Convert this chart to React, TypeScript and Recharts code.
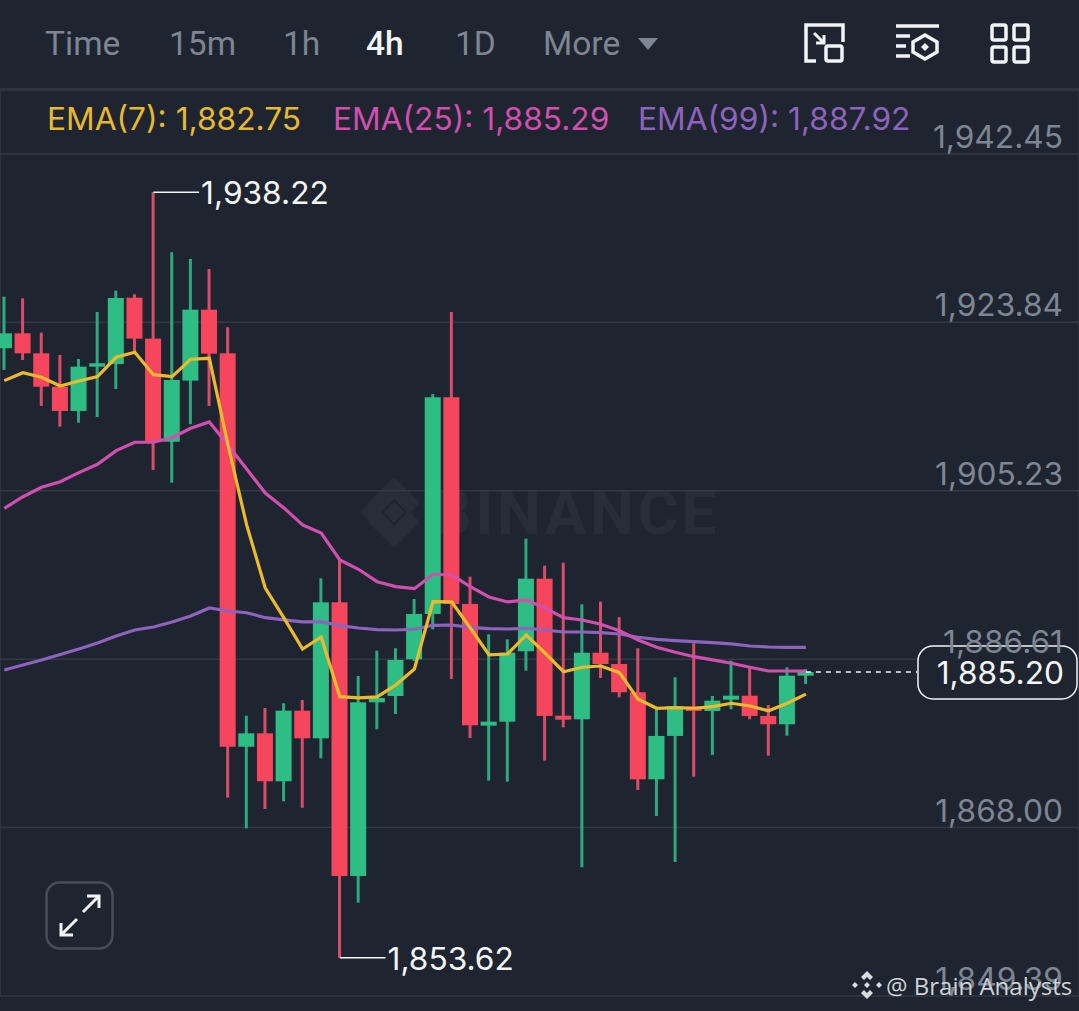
import {
  ComposedChart,
  Bar,
  Line,
  XAxis,
  YAxis,
  CartesianGrid,
  ReferenceLine
} from 'recharts'

const opens = [1920.98, 1922.63, 1920.42, 1916.73, 1914.05, 1918.94, 1919.24, 1926.57, 1922.04, 1910.65, 1917.40, 1925.24, 1920.42, 1876.94, 1878.42, 1873.12, 1880.92, 1877.87, 1892.90, 1862.65, 1881.85, 1882.55, 1886.60, 1891.61, 1915.56, 1892.72, 1879.27, 1879.71, 1887.49, 1895.51, 1880.37, 1879.97, 1887.33, 1886.08, 1882.96, 1873.34, 1878.13, 1881.37, 1880.89, 1882.14, 1882.58, 1880.34, 1879.42, 1884.79]
const closes = [1922.63, 1920.42, 1916.73, 1914.05, 1918.94, 1919.32, 1926.53, 1922.04, 1910.65, 1917.47, 1925.24, 1920.38, 1876.94, 1878.42, 1873.12, 1880.92, 1877.87, 1892.90, 1862.65, 1881.85, 1882.33, 1886.53, 1891.61, 1915.56, 1892.72, 1879.31, 1879.71, 1887.33, 1895.51, 1880.34, 1879.93, 1887.33, 1886.08, 1882.96, 1873.34, 1878.13, 1881.44, 1880.89, 1882.03, 1882.58, 1880.34, 1879.42, 1884.79, 1885.20]
const highs = [1926.68, 1926.50, 1922.70, 1920.24, 1919.79, 1924.99, 1927.34, 1926.94, 1938.22, 1931.59, 1930.85, 1929.74, 1923.30, 1880.37, 1881.22, 1881.74, 1882.11, 1895.56, 1897.58, 1884.76, 1887.55, 1887.82, 1893.27, 1915.93, 1924.99, 1895.73, 1889.37, 1888.81, 1899.93, 1896.95, 1897.28, 1892.68, 1892.97, 1891.25, 1887.82, 1881.19, 1884.61, 1888.37, 1882.55, 1886.45, 1885.72, 1881.55, 1885.72, 1885.50]
const lows = [1918.58, 1919.68, 1914.60, 1912.31, 1912.75, 1913.38, 1916.48, 1920.57, 1907.53, 1906.12, 1912.58, 1914.60, 1871.31, 1867.92, 1870.06, 1870.91, 1870.20, 1875.66, 1853.62, 1859.70, 1878.87, 1880.56, 1886.40, 1889.92, 1884.43, 1877.91, 1873.19, 1873.08, 1885.34, 1875.40, 1879.09, 1863.62, 1884.54, 1882.40, 1872.16, 1869.29, 1864.20, 1873.63, 1876.03, 1881.08, 1879.97, 1875.95, 1878.16, 1883.87]

const ema7 = [1917.40, 1918.28, 1917.77, 1916.81, 1917.36, 1917.84, 1919.98, 1920.53, 1918.06, 1917.84, 1919.76, 1919.87, 1910.29, 1901.45, 1894.48, 1891.17, 1887.74, 1889.07, 1882.47, 1882.33, 1882.44, 1883.76, 1885.53, 1892.97, 1892.94, 1890.06, 1887.08, 1887.19, 1889.29, 1887.30, 1885.23, 1885.72, 1885.86, 1885.12, 1882.18, 1881.19, 1881.26, 1881.19, 1881.37, 1881.74, 1881.44, 1880.92, 1881.74, 1882.75]
const ema25 = [1903.29, 1904.57, 1905.61, 1906.23, 1907.23, 1908.16, 1909.66, 1910.59, 1910.59, 1911.09, 1912.13, 1912.83, 1910.29, 1907.64, 1904.98, 1903.33, 1901.45, 1900.56, 1897.58, 1896.55, 1895.18, 1894.63, 1894.41, 1896.00, 1895.92, 1894.63, 1893.49, 1892.94, 1893.16, 1892.27, 1891.20, 1890.95, 1890.47, 1889.77, 1888.74, 1887.93, 1887.38, 1886.89, 1886.53, 1886.16, 1885.72, 1885.31, 1885.31, 1885.29]
const ema99 = [1885.42, 1885.97, 1886.53, 1887.13, 1887.74, 1888.41, 1889.18, 1889.84, 1890.17, 1890.73, 1891.39, 1892.27, 1891.94, 1891.75, 1891.20, 1890.95, 1890.73, 1890.76, 1890.32, 1890.06, 1889.88, 1889.84, 1889.92, 1890.36, 1890.39, 1890.14, 1889.99, 1889.95, 1890.03, 1889.84, 1889.62, 1889.62, 1889.54, 1889.40, 1889.04, 1888.81, 1888.66, 1888.55, 1888.44, 1888.30, 1888.07, 1887.96, 1887.93, 1887.92]

const priceTicks = [1849.39, 1868.00, 1886.61, 1905.23, 1923.84, 1942.45]
const timeTicks = [13, 32]
const timeframes = ['Time', '15m', '1h', '4h', '1D', 'More']
const timeframeLeft = [45, 169, 283, 366, 455, 543]
const lastPrice = 1885.20
const highPrice = 1938.22
const lowPrice = 1853.62

const chartData = opens.map((open, i) => ({
  i,
  open,
  close: closes[i],
  high: highs[i],
  low: lows[i],
  ema7: ema7[i],
  ema25: ema25[i],
  ema99: ema99[i]
}))

const BG = '#1e2530'
const GREEN = '#2ebd85'
const RED = '#f6465d'
const FONT = 'Inter, sans-serif'

const fmt = (v: number) => v.toLocaleString('en-US', { minimumFractionDigits: 2, maximumFractionDigits: 2 })

function Candle(props: any) {
  const { x, y, width, height, payload } = props
  const up = payload.close >= payload.open
  const color = up ? GREEN : RED
  const k = Math.abs(height) / (payload.high - payload.low)
  const top = Math.min(y, y + height)
  const bodyTop = top + (payload.high - Math.max(payload.open, payload.close)) * k
  const bodyH = Math.abs(payload.close - payload.open) * k
  return (
    <g>
      <rect x={x + width / 2 - 1.5} y={top} width={3} height={Math.abs(height)} fill={up ? '#2fa87f' : '#d94d68'} />
      <rect x={x} y={bodyTop} width={width} height={Math.max(bodyH, 3)} fill={color} />
    </g>
  )
}

function PriceTick({ y, payload }: any) {
  return (
    <text x={1063} y={y - 6} textAnchor="end" fontFamily={FONT} fontSize={31.7} fill="#7d8692">
      {fmt(payload.value)}
    </text>
  )
}

function LastPriceTag({ viewBox }: any) {
  const left = viewBox.x + viewBox.width + 1
  return (
    <g>
      <rect x={left} y={viewBox.y - 26} width={159} height={53} rx={15} fill={BG} stroke="#f2f3f5" strokeWidth={1.5} />
      <text x={left + 146} y={viewBox.y + 12} textAnchor="end" fontFamily={FONT} fontSize={31.7} fill="#f5f6f7">
        {fmt(lastPrice)}
      </text>
    </g>
  )
}

function ExtremeLabel({ viewBox, value }: any) {
  return (
    <text x={viewBox.x + viewBox.width + 2} y={viewBox.y + 12} fontFamily={FONT} fontSize={31.7} fill="#f5f6f7">
      {value}
    </text>
  )
}

function HeaderIcons() {
  return (
    <svg width={1079} height={90} style={{ position: 'absolute', left: 0, top: 0 }} fill="none" stroke="#f2f3f5" strokeWidth={3.5}>
      <path d="M806 46 V25 H843 V42 M806 46 V61 H816" />
      <rect x={826} y={46} width={16} height={15} rx={2} />
      <path d="M814 33 L824 43 M824 35 V43 H816" strokeWidth={3} />
      <path d="M896 26 H939 M896 36 H910 M896 46 H906 M896 56 H910" />
      <path d="M925 35 L937 42 V52 L925 59 L913 52 V42 Z" />
      <path d="M925 43 L929 47 L925 51 L921 47 Z" fill="#f2f3f5" stroke="none" />
      <rect x={992} y={25} width={14} height={15} rx={2} />
      <rect x={1014} y={25} width={14} height={15} rx={2} />
      <rect x={992} y={47} width={14} height={15} rx={2} />
      <rect x={1014} y={47} width={14} height={15} rx={2} />
    </svg>
  )
}

export default function App() {
  return (
    <div style={{ position: 'absolute', left: 0, top: 0, width: 1079, height: 1011, background: BG, overflow: 'hidden', fontFamily: FONT }}>
      {/* watermark sits behind the chart */}
      <svg width={1079} height={1011} style={{ position: 'absolute', left: 0, top: 0 }}>
        <g fill="#272e39">
          <path d="M394 477 L420 503 L409 514 L394 499 L379 514 L368 503 Z" />
          <path d="M394 548 L368 522 L379 511 L394 526 L409 511 L420 522 Z" />
          <path d="M372 512 L361 523 L350 512 L361 501 Z" transform="translate(10 0)" />
          <path d="M394 502 L404 512 L394 523 L384 512 Z" />
        </g>
        <text x={432} y={534} fontFamily="Roboto, sans-serif" fontWeight={700} fontSize={62} letterSpacing={3.6} fill="#272e39">BINANCE</text>
      </svg>

      <div style={{ position: 'absolute', left: 0, top: 0 }}>
        <ComposedChart
          width={1079}
          height={1011}
          data={chartData}
          margin={{ top: 90, right: 0, bottom: 15, left: 0 }}
        >
          <CartesianGrid stroke="#323945" strokeWidth={1.5} />
          <XAxis
            dataKey="i"
            type="number"
            domain={[-0.23, 57.65]}
            allowDataOverflow
            ticks={timeTicks}
            tick={false}
            tickLine={false}
            axisLine={false}
            height={0}
          />
          <YAxis
            orientation="right"
            type="number"
            domain={[1849.39, 1949.52]}
            allowDataOverflow
            ticks={priceTicks}
            interval={0}
            width={1}
            mirror
            tickLine={false}
            axisLine={false}
            tick={PriceTick}
          />
          <Bar
            dataKey={(d: any) => [d.low, d.high]}
            barSize={16}
            shape={Candle}
            isAnimationActive={false}
          />
          <Line type="linear" dataKey="ema99" stroke="#8e63bd" strokeWidth={3.2} dot={false} isAnimationActive={false} />
          <Line type="linear" dataKey="ema25" stroke="#d14fae" strokeWidth={3.2} dot={false} isAnimationActive={false} />
          <Line type="linear" dataKey="ema7" stroke="#ecbb2c" strokeWidth={3.2} dot={false} isAnimationActive={false} />
          <ReferenceLine
            segment={[{ x: 8, y: highPrice }, { x: 10.45, y: highPrice }]}
            stroke="#f2f3f5"
            strokeWidth={1.5}
            label={(p: any) => <ExtremeLabel {...p} value={fmt(highPrice)} />}
          />
          <ReferenceLine
            segment={[{ x: 18, y: lowPrice }, { x: 20.45, y: lowPrice }]}
            stroke="#f2f3f5"
            strokeWidth={1.5}
            label={(p: any) => <ExtremeLabel {...p} value={fmt(lowPrice)} />}
          />
          <ReferenceLine
            segment={[{ x: 43, y: lastPrice }, { x: 48.96, y: lastPrice }]}
            stroke="#f2f3f5"
            strokeWidth={1.5}
            strokeDasharray="5 5"
            label={LastPriceTag}
          />
        </ComposedChart>
      </div>

      {/* header */}
      <div style={{ position: 'absolute', left: 0, top: 88, width: 1079, height: 2, background: '#2e3540' }} />
      {timeframes.map((t, i) => (
        <div
          key={t}
          style={{
            position: 'absolute',
            left: timeframeLeft[i],
            top: 24,
            fontFamily: 'Roboto, sans-serif',
            fontSize: 33.5,
            lineHeight: '40px',
            color: t === '4h' ? '#f5f6f7' : '#7d8692',
            fontWeight: t === '4h' ? 500 : 400
          }}
        >
          {t}
        </div>
      ))}
      <svg width={24} height={16} style={{ position: 'absolute', left: 637, top: 36 }}>
        <path d="M1 2 H21 L11 14 Z" fill="#7d8692" />
      </svg>
      <HeaderIcons />

      <div style={{ position: 'absolute', left: 47, top: 101, fontSize: 31.7, lineHeight: '36px', color: '#e8b92e', whiteSpace: 'nowrap' }}>EMA(7): {fmt(ema7[43])}</div>
      <div style={{ position: 'absolute', left: 333, top: 101, fontSize: 31.7, lineHeight: '36px', color: '#d14fae', whiteSpace: 'nowrap' }}>EMA(25): {fmt(ema25[43])}</div>
      <div style={{ position: 'absolute', left: 638, top: 101, fontSize: 31.7, lineHeight: '36px', color: '#8e63bd', whiteSpace: 'nowrap' }}>EMA(99): {fmt(ema99[43])}</div>

      {/* expand button */}
      <svg width={70} height={70} style={{ position: 'absolute', left: 45, top: 881 }} fill="none">
        <rect x={1.5} y={1.5} width={66} height={66} rx={13} stroke="#474e5a" strokeWidth={2.5} />
        <path d="M16 54 L32 38 M16 42 V54 H28 M54 15 L38 31 M42 15 H54 V27" stroke="#f2f3f5" strokeWidth={3} />
      </svg>

      {/* source tag */}
      <svg width={32} height={32} style={{ position: 'absolute', left: 851, top: 969 }} fill="#d9dbde">
        <path d="M16 2 L22 8 L19 11 L16 8 L13 11 L10 8 Z" />
        <path d="M16 30 L10 24 L13 21 L16 24 L19 21 L22 24 Z" />
        <path d="M4 13 L7 16 L4 19 L1 16 Z M28 13 L31 16 L28 19 L25 16 Z M16 13 L19 16 L16 19 L13 16 Z" />
      </svg>
      <div style={{ position: 'absolute', left: 886, top: 970, fontFamily: '"Open Sans", sans-serif', fontSize: 24, lineHeight: '32px', color: '#cfd2d6', whiteSpace: 'nowrap' }}>@ Brain Analysts</div>
    </div>
  )
}
